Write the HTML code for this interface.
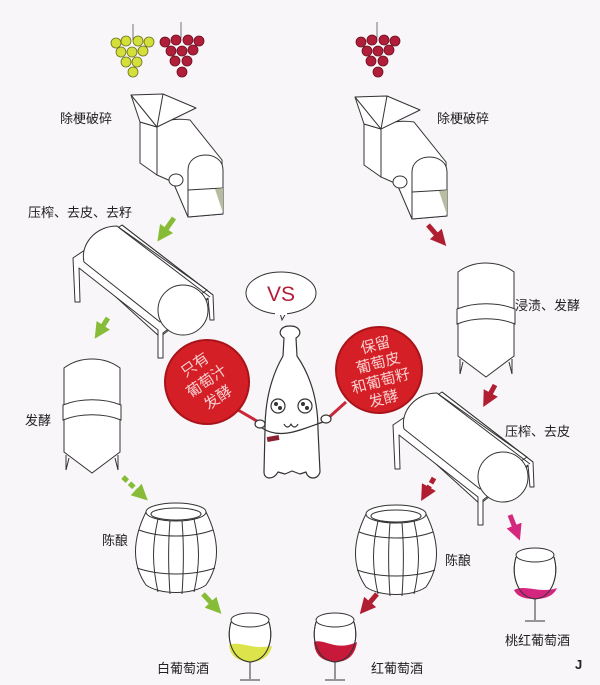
<!DOCTYPE html>
<html><head><meta charset="utf-8"><style>
html,body{margin:0;padding:0;background:#f8f6f8;}
svg{display:block}
text{font-family:"Liberation Sans","Noto Sans CJK SC",sans-serif;fill:#222;}
</style></head><body>
<svg width="600" height="685" viewBox="0 0 600 685" xmlns="http://www.w3.org/2000/svg">
<defs>
<marker id="mg" viewBox="0 0 10 10" refX="5" refY="5" markerWidth="3.2" markerHeight="3.2" orient="auto"><path d="M0,0 L10,5 L0,10 Z" fill="#86bc37"/></marker>
<marker id="mr" viewBox="0 0 10 10" refX="5" refY="5" markerWidth="3.2" markerHeight="3.2" orient="auto"><path d="M0,0 L10,5 L0,10 Z" fill="#b01e32"/></marker>
<marker id="mp" viewBox="0 0 10 10" refX="5" refY="5" markerWidth="3.2" markerHeight="3.2" orient="auto"><path d="M0,0 L10,5 L0,10 Z" fill="#d4287f"/></marker>

<g id="crusher" fill="#fff" stroke="#333" stroke-width="1" stroke-linejoin="round">
  <path d="M157,127 L157,175 L173,182 L188,217 L223,214 L222,160 L190,120 C175,118 162,120 157,127 Z"/>
  <path d="M140,122 L140,163 L157,175 L157,127 Z"/>
  <path d="M131,95 L163,94 L196,108 L157,127 L140,122 Z"/>
  <path d="M131,95 L157,127 M163,94 L157,127" fill="none"/>
  <path d="M188,217 L188,170 C188,150 223,150 223,170 L223,214 Z"/>
  <path d="M188,190 L223,188"/>
  <path d="M215,189 L223,188 L223,213 Z" fill="#b8bca0" stroke="none"/>
  <ellipse cx="176" cy="180" rx="7" ry="6"/>
</g>

<g id="press" fill="#fff" stroke="#333" stroke-width="1" stroke-linejoin="round">
  <path d="M73,258 L122,225 L213,295 L160,337 Z"/>
  <path d="M73,258 L75,302 L80,302 L79,268 L158,330 L158,358 L163,358 L163,333 L208,298 L210,320 L214,320 L213,295" fill="#fff"/>
  <path d="M84,262 C80,245 95,226 117,226 L207,290 L160,322 Z"/>
  <circle cx="183" cy="310" r="25"/>
  <path d="M122,225 L213,295 M118,227 L210,297" fill="none"/>
</g>

<g id="tank" fill="#fff" stroke="#333" stroke-width="1">
  <path d="M64,368 C80,356 104,356 120,368 L120,452 L92,473 L64,452 Z"/>
  <path d="M63,405 C80,398 104,398 121,405 L121,420 C104,413 80,413 63,420 Z"/>
  <path d="M66,455 L66,470 L69,458 M118,455 L118,470 L115,458" fill="none"/>
</g>

<g id="barrel" fill="#fff" stroke="#333" stroke-width="1">
  <path d="M146,512 C132,540 132,565 146,585 C160,595 192,595 206,585 C220,565 220,540 206,512 Z"/>
  <ellipse cx="176" cy="512" rx="30" ry="9"/>
  <ellipse cx="176" cy="514" rx="25" ry="6"/>
  <path d="M139,530 C160,538 192,538 213,530 M137,568 C160,576 192,576 215,568" fill="none"/>
  <path d="M158,519 C152,545 152,565 158,592 M170,521 C168,545 168,565 170,594 M182,521 C184,545 184,565 182,594 M194,519 C200,545 200,565 194,592" fill="none"/>
</g>
</defs>

<!-- grapes -->
<g stroke="#555" stroke-width="0.8">
  <line x1="133" y1="24" x2="133" y2="40"/><line x1="181" y1="22" x2="181" y2="38"/><line x1="377" y1="22" x2="377" y2="38"/>
</g>
<g fill="#d4df3a" stroke="#6a7020" stroke-width="0.8">
  <circle cx="116" cy="43" r="5"/><circle cx="126" cy="41" r="5"/><circle cx="138" cy="41" r="5"/><circle cx="149" cy="42" r="5"/>
  <circle cx="121" cy="52" r="5"/><circle cx="132" cy="52" r="5"/><circle cx="143" cy="51" r="5"/>
  <circle cx="126" cy="62" r="5"/><circle cx="137" cy="62" r="5"/><circle cx="133" cy="72" r="5"/>
</g>
<g fill="#b01e3a" stroke="#6a1020" stroke-width="0.8">
  <circle cx="165" cy="42" r="5"/><circle cx="176" cy="40" r="5"/><circle cx="188" cy="40" r="5"/><circle cx="199" cy="41" r="5"/>
  <circle cx="171" cy="51" r="5"/><circle cx="182" cy="51" r="5"/><circle cx="193" cy="50" r="5"/>
  <circle cx="175" cy="61" r="5"/><circle cx="187" cy="61" r="5"/><circle cx="182" cy="72" r="5"/>
  <circle cx="361" cy="42" r="5"/><circle cx="372" cy="40" r="5"/><circle cx="384" cy="40" r="5"/><circle cx="395" cy="41" r="5"/>
  <circle cx="367" cy="51" r="5"/><circle cx="378" cy="51" r="5"/><circle cx="389" cy="50" r="5"/>
  <circle cx="371" cy="61" r="5"/><circle cx="383" cy="61" r="5"/><circle cx="378" cy="72" r="5"/>
</g>

<use href="#crusher"/>
<use href="#crusher" transform="translate(224,2)"/>
<use href="#press"/>
<use href="#tank"/>
<use href="#tank" transform="translate(394,-96)"/>
<use href="#press" transform="translate(320,167)"/>
<use href="#barrel"/>
<use href="#barrel" transform="translate(220,2)"/>

<!-- glasses -->
<g stroke="#333" stroke-width="1" fill="#fff">
  <path d="M231,622 C226,640 232,660 250,662 C268,660 274,640 269,622"/>
  <path d="M229,645 C240,640 250,650 272,646 C270,656 262,662 250,662 C236,661 230,655 229,645 Z" fill="#dde34a" stroke="none"/>
  <ellipse cx="250" cy="620" rx="19" ry="7"/>
  <path d="M231,622 C226,640 232,660 250,662 C268,660 274,640 269,622" fill="none"/>
  <path d="M250,662 L250,679 M240,680 L260,680" fill="none"/>

  <path d="M316,622 C311,640 317,660 335,662 C353,660 359,640 354,622"/>
  <path d="M314,642 C325,638 335,652 357,642 C355,656 347,662 335,662 C321,661 315,655 314,642 Z" fill="#c8193a" stroke="none"/>
  <ellipse cx="335" cy="620" rx="19" ry="7"/>
  <path d="M316,622 C311,640 317,660 335,662 C353,660 359,640 354,622" fill="none"/>
  <path d="M335,662 L335,679 M325,680 L345,680" fill="none"/>

  <path d="M516,557 C511,575 517,597 535,599 C553,597 559,575 554,557"/>
  <path d="M514,590 C525,584 540,594 557,588 C554,595 547,599 535,599 C523,599 517,596 514,590 Z" fill="#d4267f" stroke="none"/>
  <ellipse cx="535" cy="555" rx="19" ry="7"/>
  <path d="M516,557 C511,575 517,597 535,599 C553,597 559,575 554,557" fill="none"/>
  <path d="M535,599 L535,620 M525,621 L545,621" fill="none"/>
</g>

<!-- arrows -->
<g stroke-width="5" fill="none">
  <line x1="174" y1="218" x2="162" y2="235" stroke="#86bc37" marker-end="url(#mg)"/>
  <line x1="108" y1="318" x2="99" y2="332" stroke="#86bc37" marker-end="url(#mg)"/>
  <line x1="123" y1="477" x2="142" y2="495" stroke="#86bc37" stroke-dasharray="6,3" marker-end="url(#mg)"/>
  <line x1="203" y1="594" x2="216" y2="608" stroke="#86bc37" marker-end="url(#mg)"/>
  <line x1="428" y1="225" x2="441" y2="240" stroke="#b01e32" marker-end="url(#mr)"/>
  <line x1="495" y1="385" x2="487" y2="400" stroke="#b01e32" marker-end="url(#mr)"/>
  <line x1="434" y1="478" x2="425" y2="494" stroke="#b01e32" stroke-dasharray="6,3" marker-end="url(#mr)"/>
  <line x1="377" y1="594" x2="365" y2="608" stroke="#b01e32" marker-end="url(#mr)"/>
  <line x1="510" y1="515" x2="517" y2="533" stroke="#d4287f" marker-end="url(#mp)"/>
</g>

<!-- VS bubble -->
<ellipse cx="281" cy="293" rx="35" ry="21" fill="#fff" stroke="#333" stroke-width="1"/>
<path d="M280,313 L282,320 L286,313" fill="#fff" stroke="#333" stroke-width="1"/>
<rect x="275" y="312" width="12" height="3" fill="#fff"/>
<text x="281" y="301" text-anchor="middle" font-size="21" style="fill:#b51c38">VS</text>

<!-- sticks -->
<line x1="238" y1="410" x2="262" y2="424" stroke="#c8283a" stroke-width="3"/>
<line x1="346" y1="402" x2="326" y2="420" stroke="#c8283a" stroke-width="3"/>

<!-- red circles -->
<circle cx="207" cy="382" r="42" fill="#d51f26" stroke="#a8141a" stroke-width="2"/>
<circle cx="379" cy="370" r="43" fill="#d51f26" stroke="#a8141a" stroke-width="2"/>
<g font-size="15" text-anchor="middle">
  <g transform="rotate(-35 207 382)">
    <text x="207" y="366" style="fill:#f8d0d0">只有</text>
    <text x="207" y="386" style="fill:#f8d0d0">葡萄汁</text>
    <text x="207" y="406" style="fill:#f8d0d0">发酵</text>
  </g>
  <g transform="rotate(-15 379 370)">
    <text x="382" y="350" style="fill:#f8d0d0">保留</text>
    <text x="380" y="368" style="fill:#f8d0d0">葡萄皮</text>
    <text x="378" y="386" style="fill:#f8d0d0">和葡萄籽</text>
    <text x="376" y="404" style="fill:#f8d0d0">发酵</text>
  </g>
</g>

<!-- character -->
<g fill="#fff" stroke="#333" stroke-width="1.2" stroke-linejoin="round">
  <path d="M284,338 C277,334 280,326 290,326 C300,326 303,334 296,338 L297,356 C310,375 318,400 318,430 L320,472 C318,480 308,480 306,472 L300,474 L292,471 L285,474 L278,472 C274,480 264,480 264,472 L265,430 C265,400 272,375 283,356 Z"/>
  <ellipse cx="260" cy="424" rx="5" ry="4"/>
  <ellipse cx="326" cy="419" rx="5" ry="4"/>
  <circle cx="278" cy="406" r="7"/>
  <circle cx="305" cy="406" r="7"/>
  <path d="M284,424 C286,428 289,428 291,424 C293,428 296,428 298,424" fill="none"/>
  <path d="M262,428 C280,440 300,430 323,422" fill="none"/>
</g>
<circle cx="276" cy="404" r="2" fill="#333"/><circle cx="280" cy="408" r="2" fill="#333"/>
<circle cx="303" cy="404" r="2" fill="#333"/><circle cx="307" cy="408" r="2" fill="#333"/>
<rect x="267" y="436" width="12" height="5" fill="#8a2030" transform="rotate(-10 273 438)"/>

<!-- labels -->
<g font-size="13">
  <text x="60" y="123">除梗破碎</text>
  <text x="437" y="123">除梗破碎</text>
  <text x="28" y="217">压榨、去皮、去籽</text>
  <text x="25" y="425">发酵</text>
  <text x="515" y="310">浸渍、发酵</text>
  <text x="505" y="436">压榨、去皮</text>
  <text x="102" y="545">陈酿</text>
  <text x="445" y="565">陈酿</text>
  <text x="157" y="673">白葡萄酒</text>
  <text x="371" y="673">红葡萄酒</text>
  <text x="505" y="645">桃红葡萄酒</text>
  <text x="575" y="669" font-weight="bold">J</text>
</g>
</svg>
</body></html>
